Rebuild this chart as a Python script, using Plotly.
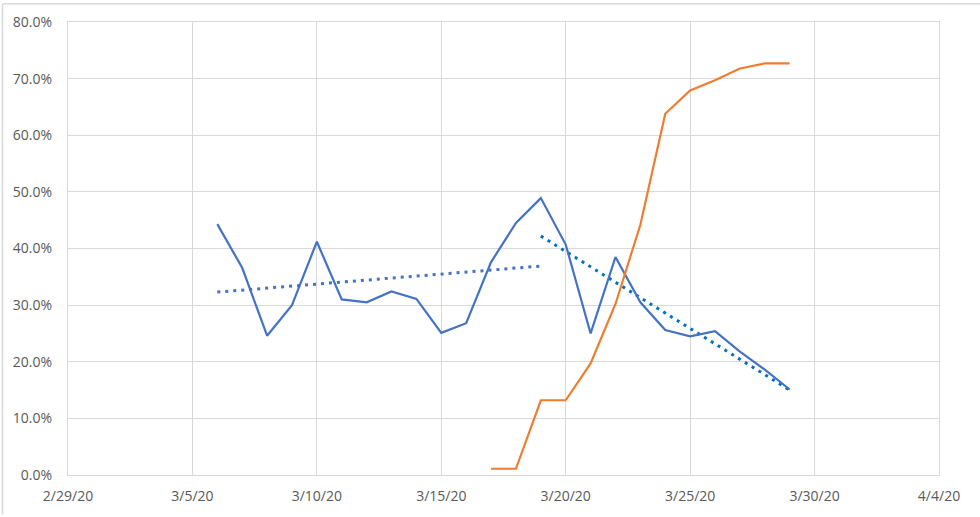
import plotly.graph_objects as go

blue_dates = ["2020-03-06", "2020-03-07", "2020-03-08", "2020-03-09", "2020-03-10", "2020-03-11",
              "2020-03-12", "2020-03-13", "2020-03-14", "2020-03-15", "2020-03-16", "2020-03-17",
              "2020-03-18", "2020-03-19", "2020-03-20", "2020-03-21", "2020-03-22", "2020-03-23",
              "2020-03-24", "2020-03-25", "2020-03-26", "2020-03-27", "2020-03-28", "2020-03-29"]
blue_values = [44.3, 36.6, 24.6, 30.0, 41.2, 31.0, 30.5, 32.4, 31.1, 25.1, 26.8, 37.6,
               44.5, 48.9, 40.7, 25.0, 38.5, 30.5, 25.6, 24.5, 25.4, 21.8, 18.6, 15.1]

orange_dates = ["2020-03-17", "2020-03-18", "2020-03-19", "2020-03-20", "2020-03-21", "2020-03-22",
                "2020-03-23", "2020-03-24", "2020-03-25", "2020-03-26", "2020-03-27", "2020-03-28",
                "2020-03-29"]
orange_values = [1.1, 1.1, 13.2, 13.2, 19.7, 30.2, 44.2, 63.8, 67.9, 69.7, 71.8, 72.7, 72.7]

trend1_dates = ["2020-03-06", "2020-03-19"]
trend1_values = [32.3, 36.9]
trend2_dates = ["2020-03-19", "2020-03-29"]
trend2_values = [42.2, 15.0]

x_range = ["2020-02-29", "2020-04-04"]

fig = go.Figure()
fig.add_trace(go.Scatter(x=trend1_dates, y=trend1_values, mode="lines",
                         line=dict(color="#4472C4", width=3, dash="3px,5px")))
fig.add_trace(go.Scatter(x=trend2_dates, y=trend2_values, mode="lines",
                         line=dict(color="#0070C0", width=3, dash="3px,5px")))
fig.add_trace(go.Scatter(x=blue_dates, y=blue_values, mode="lines",
                         line=dict(color="#4472C4", width=2.2)))
fig.add_trace(go.Scatter(x=orange_dates, y=orange_values, mode="lines",
                         line=dict(color="#ED7D31", width=2.2)))

axis_font = dict(family="Open Sans", size=14, color="#595959")
L, R, T, B = 68, 939, 20, 477
W, H = R - L, B - T
fig.update_layout(
    width=980, height=517,
    margin=dict(l=L, r=980 - R, t=T, b=517 - B),
    paper_bgcolor="white", plot_bgcolor="white",
    showlegend=False,
    xaxis=dict(type="date", range=x_range, tick0="2020-02-29", dtick=5 * 86400000,
               tickformat="%-m/%-d/%y", showgrid=True, gridcolor="#D9D9D9", gridwidth=1.3,
               showline=True, linecolor="#D9D9D9", linewidth=1.3, mirror=True,
               zeroline=False, ticks="", tickfont=axis_font, ticklabelstandoff=8),
    yaxis=dict(range=[0, 80], dtick=10, tickformat=".1f", ticksuffix="%",
               showgrid=True, gridcolor="#D9D9D9", gridwidth=1.3,
               showline=True, linecolor="#D9D9D9", linewidth=1.3, mirror=True,
               zeroline=False, ticks="", tickfont=axis_font, ticklabelstandoff=12),
    shapes=[
        dict(type="line", xref="paper", yref="paper",
             x0=(2.5 - L) / W, x1=(980 - L) / W, y0=1 + (T - 1.5) / H, y1=1 + (T - 1.5) / H,
             line=dict(color="#D9D9D9", width=1.5), layer="below"),
        dict(type="line", xref="paper", yref="paper",
             x0=(2.5 - L) / W, x1=(2.5 - L) / W, y0=-(517 - B) / H, y1=1 + (T - 1.5) / H,
             line=dict(color="#D9D9D9", width=1.5), layer="below"),
    ],
)

fig.write_html("out.html")
